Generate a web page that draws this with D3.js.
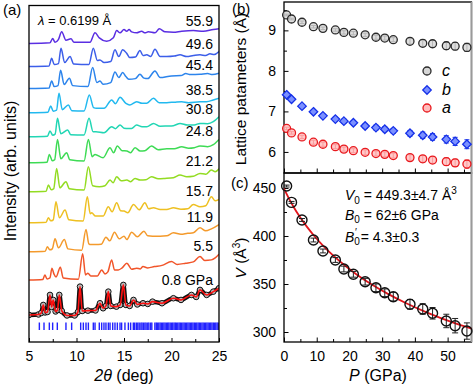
<!DOCTYPE html>
<html><head><meta charset="utf-8">
<script src="https://cdn.jsdelivr.net/npm/d3@7"></script>
<style>body{margin:0;background:#fff}svg{display:block}</style>
</head><body><svg id="c" width="474" height="387"></svg>
<script>
// ---------- DATA ----------
const pressureLabels = ["55.9","49.6","45.4","38.5","30.8","24.8","21.2","15.7","11.9","5.5","0.8 GPa"];
const patternOffsets = [298,275,253,229,205,179,150,119,90,62,27];
const xrd559 = [[5,0],[7.2,0.7],[7.49,5],[7.74,1.3],[8.09,4],[8.44,11.7],[8.89,3.3],[9.42,4.7],[9.74,1.3],[11.42,1.3],[11.95,10.7],[12.4,5.7],[13.18,2.3],[13.88,5.7],[14.23,13],[14.58,10.7],[15.0,14],[15.28,12.3],[15.53,14],[15.81,11.7],[16.33,10.7],[16.86,12.3],[17.21,10.7],[17.56,11.7],[18.26,10.7],[18.72,14.7],[19.32,11.7],[20.19,11.3],[21.07,12.3],[22.3,13],[23.35,12.3],[24.4,14],[25,14.7]];
const xrd496 = [[5,0],[7.1,0.5],[7.39,8.3],[7.65,2],[8.1,3],[8.37,18.3],[8.75,4],[9.32,10],[9.7,2.5],[11.3,2],[11.77,18.3],[12.2,6],[12.47,6.7],[12.9,4],[13.6,5],[14.05,16.7],[14.45,10],[14.86,16.7],[15.28,13.3],[15.6,9],[16.2,9.5],[16.68,16],[17.0,11],[17.4,11.7],[17.8,10],[18.26,17.3],[18.8,10],[19.5,10],[20.3,10.5],[20.9,11.7],[21.6,10],[22.3,11],[23.0,11.7],[23.6,11],[24.05,12.7],[24.5,12],[25,15]];
const xrd454 = [[5,0],[7.1,0.5],[7.39,7.7],[7.65,2],[8.05,3],[8.33,18.3],[8.7,4],[9.25,10.3],[9.6,3],[11.2,2],[11.7,21],[12.15,6],[12.47,7.7],[12.8,4.3],[13.6,6],[14.05,16.7],[14.45,11],[14.86,16],[15.2,12],[15.5,9.3],[16.2,10],[16.68,14.3],[17.1,10.5],[17.5,10],[18.26,17.7],[18.8,11],[20,12.7],[21,13],[21.5,15],[22,14],[23,14.3],[23.8,15],[24.3,14],[25,15.3]];
const xrd385 = [[5,0],[7.0,0.5],[7.28,6.7],[7.55,1.5],[7.9,2.5],[8.16,19.3],[8.5,3],[9.14,7.7],[9.5,2],[10.8,1.7],[11.35,17.7],[11.8,5],[12.1,4.3],[12.9,4.3],[13.7,12.7],[14.1,9],[14.58,15.3],[15.2,9.3],[15.6,7.7],[16.33,11],[16.9,9.3],[17.4,9.5],[18.1,14.3],[18.7,10],[19.5,10],[20.3,10.5],[21.07,11],[21.8,10],[23,11],[23.7,11],[24.4,12.7],[25,14.3]];
const xrd308 = [[5,0],[6.95,0.5],[7.21,5.7],[7.5,1.5],[7.75,2.5],[8.0,18.3],[8.35,3],[9.07,6.7],[9.4,2],[10.8,1.7],[11.32,18.3],[11.75,5],[12.05,5],[12.9,4],[13.7,10],[14.1,8],[14.58,11.7],[15.0,8.5],[15.46,8.3],[15.8,8.3],[16.33,11.7],[16.9,10],[17.4,10],[18.1,13.3],[18.8,10.5],[19.5,10.7],[20.2,11],[20.9,13.3],[21.7,11.7],[22.4,11.7],[23,13.3],[23.8,13],[24.4,15],[25,20]];
const xrd248 = [[5,0],[6.9,0.5],[7.14,8.3],[7.45,2],[7.7,3],[8.0,23.3],[8.35,4],[8.96,10],[9.3,3],[10.8,1.7],[11.25,23.3],[11.65,6],[11.95,8.3],[12.8,5],[13.53,15],[13.9,10],[14.3,16.7],[14.8,12],[15.3,11.7],[15.7,10],[16.16,15],[16.7,11.7],[17.2,12],[17.9,16.7],[18.6,13],[19.5,14],[20.3,14],[21.07,16],[21.8,14.5],[22.4,15],[23,16.7],[23.8,16],[24.4,18],[25,23.3]];
const xrd212 = [[5,0],[6.8,0.5],[7.04,6.7],[7.35,2],[7.6,3],[7.91,23.3],[8.25,4],[8.89,10],[9.25,3],[10.8,1.7],[11.25,25],[11.7,6],[12.4,5],[13.0,6],[13.53,11.7],[13.85,9],[14.23,15],[14.7,11],[15.3,11.7],[15.7,10],[16.16,13.3],[16.7,11.7],[17.3,12],[17.9,15],[18.6,13],[19.3,13.3],[20.2,14],[20.9,16.7],[21.6,15],[22.3,15.5],[23,18.3],[23.6,17.5],[24.2,21.7],[24.6,20],[25,23]];
const xrd157 = [[5,0],[6.8,0.5],[7.04,5],[7.3,2],[7.55,3],[7.84,21],[8.2,5],[8.79,12.7],[9.2,3],[10.7,1.7],[11.14,26],[11.45,9],[11.6,10],[12.0,6.7],[12.8,6.7],[13.35,16],[13.75,11],[14.23,20],[14.65,12],[15.0,11.7],[15.4,10],[16.0,18.3],[16.6,13],[17.2,20],[17.6,14],[18.1,15],[18.8,13.3],[19.5,13.3],[20.2,15],[21,13.5],[21.7,14],[22.3,18.3],[23,16],[23.6,17],[24.2,26],[24.6,22],[25,23.3]];
const xrd119 = [[5,0],[6.7,0.5],[6.93,5],[7.2,2],[7.45,3],[7.74,13],[8.1,4],[8.72,12.3],[9.1,3],[10.55,1.7],[11.0,22.3],[11.3,8],[11.5,7.3],[12.0,7.3],[12.6,7.5],[13.1,14.7],[13.5,11],[14.0,19.7],[14.5,13],[15.0,15.7],[15.3,12.3],[15.81,19.7],[16.4,15],[17.1,20.7],[17.5,16],[18.0,15.7],[18.8,15.7],[19.5,16],[20.2,19],[21,17.5],[21.7,18.5],[22.3,19],[23.0,24],[23.6,21],[24.2,23],[25,27.3]];
const xrd55 = [[5,0],[6.45,0.5],[6.67,5],[6.9,1],[7.2,2],[7.42,11.7],[7.62,6],[7.85,3],[8.3,12.7],[8.6,2],[10.2,0.7],[10.65,26],[10.95,5],[11.2,6.7],[11.5,4],[12.2,4],[12.65,10],[13.0,6],[13.3,8],[13.7,20],[14.0,10],[14.4,10],[14.8,12],[15.3,16.7],[15.8,10.7],[16.33,11.7],[16.7,11],[17.0,13.3],[17.5,12],[18.2,13.3],[19.0,14.5],[20.0,18.3],[20.6,15.5],[21.5,16.7],[22.3,18],[23.0,23.3],[23.5,19.5],[24.2,20],[24.6,22],[25,25.7]];
const xrd08 = [[5,0],[6.0,0.5],[6.3,2],[6.5,10],[6.7,2.5],[6.95,3],[7.21,20],[7.38,8],[7.55,15],[7.8,3.5],[8.0,5],[8.19,20],[8.45,4],[9.0,-0.5],[9.8,-0.5],[10.15,3],[10.37,28.3],[10.6,4],[11.2,4.3],[12.0,4.5],[12.47,11.7],[12.8,6.7],[13.1,9],[13.35,23.3],[13.6,9],[14.2,8.3],[14.6,10],[14.93,30],[15.2,10],[15.6,9],[16.0,15],[16.4,10.5],[17.0,11.7],[17.5,11],[18,13.3],[19,11.7],[20.2,16.7],[21,15],[22.1,20],[22.6,18],[23.0,25],[23.7,20],[24.4,23.3],[25,26.7]];
const braggPositions = [6.09,6.58,7.14,7.49,7.98,8.89,9.49,10.44,10.72,11.0,11.25,11.77,11.95,12.4,12.65,12.89,13.1,13.35,13.53,13.81,14.05,14.3,14.58,14.75,15.1,15.46,15.7,15.98,16.12,16.3,16.45,16.6,16.78,16.9,17.05,17.2,17.33,17.5,17.62,17.8,17.93,18.25,18.4,18.52,18.66,18.8,18.93,19.07,19.2,19.33,19.47,19.6,19.72,19.86,20.0,20.13,20.27,20.4,20.52,20.66,20.8,20.93,21.06,21.2,21.33,21.46,21.6,21.73,21.86,22.0,22.13,22.26,22.4,22.53,22.66,22.8,22.93,23.06,23.2,23.33,23.46,23.6,23.73,23.86,24.0,24.13,24.26,24.4,24.53,24.66,24.8,24.92];
const xTicksA = [5,7.5,10,12.5,15,17.5,20,22.5,25];

const pressures = [0.8,2.3,5.5,9.0,11.9,15.7,18.3,21.2,24.8,28.1,30.8,33.4,38.5,42.4,45.4,49.6,52.3,55.9];
const latticeC = [9.38,9.28,9.20,9.09,9.05,9.01,8.95,8.93,8.89,8.83,8.81,8.77,8.73,8.68,8.67,8.62,8.61,8.58];
const latticeCErr = [0.02,0.02,0.03,0.03,0.03,0.03,0.04,0.04,0.04,0.05,0.05,0.05,0.07,0.08,0.08,0.09,0.09,0.1];
const latticeB = [7.41,7.30,7.13,6.99,6.89,6.81,6.76,6.72,6.64,6.60,6.56,6.52,6.46,6.41,6.37,6.31,6.26,6.19];
const latticeBErr = [0.03,0.03,0.04,0.04,0.04,0.05,0.05,0.05,0.05,0.06,0.06,0.06,0.07,0.08,0.08,0.09,0.1,0.11];
const latticeA = [6.58,6.47,6.37,6.24,6.19,6.13,6.07,6.03,5.99,5.96,5.94,5.91,5.86,5.83,5.80,5.76,5.73,5.70];
const latticeAErr = [0.03,0.03,0.04,0.05,0.05,0.05,0.05,0.05,0.06,0.06,0.06,0.06,0.07,0.08,0.08,0.09,0.09,0.1];
const volume = [452,435,416.7,395.8,384.4,375,365.6,360.1,352.4,346.1,340.9,336.8,328.9,324,319.5,311.5,306.6,301];
const volumeErr = [1,1,1.5,2,2,2.5,3,3,3.5,4,4,4.5,5,5.5,6,7,7.5,8.5];
const fitP = [0,1.36,2.99,4.83,6.91,9.26,11.91,14.91,18.32,22.18,26.59,31.61,37.36,43.94,51.53,57.3];
const fitV = [449.3,440,430,420,410,400,390,380,370,360,350,340,330,320,310,303.5];
const pTicks = [0,5,10,15,20,25,30,35,40,45,50,55];
const bTicks = [6,6.5,7,7.5,8,8.5,9,9.5];
const vTicks = [300,325,350,375,400,425,450];

// ---------- STYLE ----------
const FONT = "Arial, 'Liberation Sans', sans-serif";
const patterns = [xrd559,xrd496,xrd454,xrd385,xrd308,xrd248,xrd212,xrd157,xrd119,xrd55];
const colors = ["#5a2ee2","#3c5ee9","#2c84ec","#22b9ef","#22d6b4","#3edb55","#93dc22","#eec022","#f49a2c","#f1552a"];

const svg = d3.select("#c").attr("font-family", FONT);

// ===== Panel (a) =====
const xA = d3.scaleLinear().domain([5,25]).range([29,219]);
const yA = d3.scaleLinear().domain([0,336]).range([342,5.5]);
svg.append("clipPath").attr("id","clipA").append("rect").attr("x",29).attr("y",5.5).attr("width",190).attr("height",336.5);
const gA = svg.append("g").attr("clip-path","url(#clipA)");
const lineA = off => d3.line().x(d=>xA(d[0])).y(d=>yA(off+d[1])).curve(d3.curveMonotoneX);

patterns.forEach((p,i)=>{
  gA.append("path").attr("d", lineA(patternOffsets[i])(p)).attr("fill","none")
    .attr("stroke",colors[i]).attr("stroke-width",1.5).attr("stroke-linejoin","round");
});
const off08 = patternOffsets[10];
gA.append("path").attr("d", lineA(off08)(xrd08)).attr("fill","none").attr("stroke","#111").attr("stroke-width",4.5).attr("stroke-linejoin","round");
gA.selectAll("circle.obs").data(xrd08).join("circle").attr("class","obs")
  .attr("cx",d=>xA(d[0])).attr("cy",d=>yA(off08+d[1])).attr("r",2.8)
  .attr("fill","#b8b8b8").attr("stroke","#111").attr("stroke-width",1);
gA.append("path").attr("d", lineA(off08)(xrd08)).attr("fill","none").attr("stroke","#ff1010").attr("stroke-width",1.6);

gA.selectAll("line.bragg").data(braggPositions).join("line").attr("class","bragg")
  .attr("x1",d=>xA(d)).attr("x2",d=>xA(d)).attr("y1",yA(12)).attr("y2",yA(19.5))
  .attr("stroke","#2222ff").attr("stroke-width",1.4);

const allPatterns = patterns.concat([xrd08]);
allPatterns.forEach((p,i)=>{
  const last = p[p.length-1];
  svg.append("text").attr("x",213).attr("y", yA(patternOffsets[i]+last[1]) - 3)
    .attr("text-anchor","end").attr("font-size",14).text(pressureLabels[i]);
});
const lam = svg.append("text").attr("x",38).attr("y",25).attr("font-size",13);
lam.append("tspan").attr("font-style","italic").text("λ");
lam.append("tspan").text(" = 0.6199 Å");

const axA = d3.axisBottom(xA).tickValues(xTicksA).tickSize(-4).tickPadding(9)
  .tickFormat(d => d % 5 === 0 ? d : "");
const gAx = svg.append("g").attr("transform","translate(0,342)").call(axA);
gAx.select(".domain").remove();
gAx.selectAll(".tick line").attr("y2", d => d % 5 === 0 ? -4 : -3).attr("stroke","#000");
gAx.selectAll("text").attr("font-size",14).attr("font-family",FONT).attr("fill","#000");
svg.append("rect").attr("x",29).attr("y",5.5).attr("width",190).attr("height",336.5)
  .attr("fill","none").attr("stroke","#000").attr("stroke-width",1.3);

const xt = svg.append("text").attr("x",124).attr("y",381).attr("text-anchor","middle").attr("font-size",16);
xt.append("tspan").attr("font-style","italic").text("2θ");
xt.append("tspan").text(" (deg)");
svg.append("text").attr("transform","translate(16,171) rotate(-90)").attr("text-anchor","middle")
  .attr("font-size",16).text("Intensity (arb. units)");
svg.append("text").attr("x",3).attr("y",15).attr("font-size",15).text("(a)");

// ===== Panels (b),(c) =====
const L = 284, R = 471.5;
const xP = d3.scaleLinear().domain([0,57.3]).range([L,R]);
const yB = d3.scaleLinear().domain([5.48,9.70]).range([173,2]);
const yC = d3.scaleLinear().domain([289.6,465.6]).range([342,173]);

const gBy = svg.append("g").attr("transform",`translate(${L},0)`)
  .call(d3.axisLeft(yB).tickValues(bTicks).tickSize(-4).tickPadding(8).tickFormat(d => Number.isInteger(d) ? d : ""));
gBy.select(".domain").remove();
gBy.selectAll(".tick line").attr("x2", d => Number.isInteger(d) ? 4.5 : 3);
gBy.selectAll("text").attr("font-size",14).attr("font-family",FONT);
const gBx = svg.append("g").attr("transform","translate(0,173)")
  .call(d3.axisBottom(xP).tickValues(pTicks).tickSize(-4).tickFormat(""));
gBx.select(".domain").remove();
gBx.selectAll(".tick line").attr("y2", d => d % 10 === 0 ? -4.5 : -3.5);

const gCy = svg.append("g").attr("transform",`translate(${L},0)`)
  .call(d3.axisLeft(yC).tickValues(vTicks).tickSize(-4).tickPadding(8).tickFormat(d => d % 50 === 0 ? d : ""));
gCy.select(".domain").remove();
gCy.selectAll(".tick line").attr("x2", d => d % 50 === 0 ? 4.5 : 3);
gCy.selectAll("text").attr("font-size",14).attr("font-family",FONT);
const gCx = svg.append("g").attr("transform","translate(0,342)")
  .call(d3.axisBottom(xP).tickValues(pTicks).tickSize(-4).tickPadding(9).tickFormat(d => d % 10 === 0 ? d : ""));
gCx.select(".domain").remove();
gCx.selectAll(".tick line").attr("y2", d => d % 10 === 0 ? -4.5 : -3);
gCx.selectAll("text").attr("font-size",14).attr("font-family",FONT);

svg.append("rect").attr("x",L).attr("y",2).attr("width",R-L).attr("height",171).attr("fill","none").attr("stroke","#000").attr("stroke-width",1.3);
svg.append("rect").attr("x",L).attr("y",173).attr("width",R-L).attr("height",169).attr("fill","none").attr("stroke","#000").attr("stroke-width",1.3);
svg.append("line").attr("x1",R).attr("x2",R).attr("y1",2).attr("y2",342).attr("stroke","#9a9a9a").attr("stroke-width",1.6);

const seriesB = [
  {v:latticeC, e:latticeCErr, stroke:"#2a2a2a", fill:"#d6d6d6", shape:"circle", bar:"#333"},
  {v:latticeB, e:latticeBErr, stroke:"#1530e8", fill:"#7b90ff", shape:"diamond", bar:"#1530e8"},
  {v:latticeA, e:latticeAErr, stroke:"#e8191e", fill:"#ffbcbc", shape:"circle", bar:"#e8191e"}
];
const diamond = d3.symbol().type(d3.symbolDiamond2).size(46);
seriesB.forEach(s=>{
  const g = svg.append("g");
  pressures.forEach((p,i)=>{
    const x = xP(p), y0 = yB(s.v[i]-s.e[i]), y1 = yB(s.v[i]+s.e[i]);
    g.append("line").attr("x1",x).attr("x2",x).attr("y1",y0).attr("y2",y1).attr("stroke",s.bar).attr("stroke-width",1);
    g.append("line").attr("x1",x-2.5).attr("x2",x+2.5).attr("y1",y0).attr("y2",y0).attr("stroke",s.bar).attr("stroke-width",1);
    g.append("line").attr("x1",x-2.5).attr("x2",x+2.5).attr("y1",y1).attr("y2",y1).attr("stroke",s.bar).attr("stroke-width",1);
  });
  if (s.shape === "circle") {
    g.selectAll("circle").data(pressures).join("circle")
      .attr("cx",d=>xP(d)).attr("cy",(d,i)=>yB(s.v[i])).attr("r",4)
      .attr("fill",s.fill).attr("fill-opacity",0.8).attr("stroke",s.stroke).attr("stroke-width",1.3);
  } else {
    g.selectAll("path.m").data(pressures).join("path").attr("class","m")
      .attr("transform",(d,i)=>`translate(${xP(d)},${yB(s.v[i])})`).attr("d",diamond)
      .attr("fill",s.fill).attr("stroke",s.stroke).attr("stroke-width",1.3);
  }
});
const leg = [["c",0,71],["b",1,90],["a",2,108]];
leg.forEach(([t,k,y])=>{
  const s = seriesB[k];
  if (s.shape === "circle") svg.append("circle").attr("cx",427).attr("cy",y).attr("r",4).attr("fill",s.fill).attr("stroke",s.stroke).attr("stroke-width",1.3);
  else svg.append("path").attr("transform",`translate(427,${y})`).attr("d",diamond).attr("fill",s.fill).attr("stroke",s.stroke).attr("stroke-width",1.3);
  svg.append("text").attr("x",442).attr("y",y+5).attr("font-size",16).attr("font-style","italic").text(t);
});

const fitLine = d3.line().x((d,i)=>xP(fitP[i])).y(d=>yC(d)).curve(d3.curveMonotoneX);
svg.append("path").attr("d",fitLine(fitV)).attr("fill","none").attr("stroke","#e3141b").attr("stroke-width",1.8);
const gC = svg.append("g");
pressures.forEach((p,i)=>{
  const x = xP(p), y0 = yC(volume[i]-volumeErr[i]), y1 = yC(volume[i]+volumeErr[i]);
  gC.append("line").attr("x1",x).attr("x2",x).attr("y1",y0).attr("y2",y1).attr("stroke","#222").attr("stroke-width",1);
  gC.append("line").attr("x1",x-3).attr("x2",x+3).attr("y1",y0).attr("y2",y0).attr("stroke","#222").attr("stroke-width",1);
  gC.append("line").attr("x1",x-3).attr("x2",x+3).attr("y1",y1).attr("y2",y1).attr("stroke","#222").attr("stroke-width",1);
});
gC.selectAll("circle").data(pressures).join("circle")
  .attr("cx",d=>xP(d)).attr("cy",(d,i)=>yC(volume[i])).attr("r",5)
  .attr("fill","none").attr("stroke","#111").attr("stroke-width",1.4);

const t1 = svg.append("text").attr("x",345).attr("y",200).attr("font-size",14);
t1.append("tspan").attr("font-style","italic").text("V");
t1.append("tspan").attr("dy",4).attr("font-size",10).text("0");
t1.append("tspan").attr("dy",-4).text(" = 449.3±4.7 Å");
t1.append("tspan").attr("dy",-6).attr("font-size",10).text("3");
const t2 = svg.append("text").attr("x",345).attr("y",220).attr("font-size",14);
t2.append("tspan").attr("font-style","italic").text("B");
t2.append("tspan").attr("dy",3).attr("font-size",10).text("0");
t2.append("tspan").attr("dy",-3).text(" = 62±6 GPa");
const t3 = svg.append("text").attr("x",345).attr("y",242).attr("font-size",14);
t3.append("tspan").attr("font-style","italic").text("B");
t3.append("tspan").attr("dy",3).attr("font-size",10).text("0");
t3.append("tspan").attr("dx",-5).attr("dy",-9).attr("font-size",10).text("′");
t3.append("tspan").attr("dy",6).text(" = 4.3±0.3");

svg.append("text").attr("transform","translate(246,89) rotate(-90)").attr("text-anchor","middle")
  .attr("font-size",15.5).text("Lattice patameters (Å)");
const vt = svg.append("text").attr("transform","translate(246,258) rotate(-90)").attr("text-anchor","middle").attr("font-size",15.5);
vt.append("tspan").attr("font-style","italic").text("V");
vt.append("tspan").text(" (Å");
vt.append("tspan").attr("dy",-6).attr("font-size",10).text("3");
vt.append("tspan").attr("dy",6).text(")");
const pt = svg.append("text").attr("x",378).attr("y",381).attr("text-anchor","middle").attr("font-size",16);
pt.append("tspan").attr("font-style","italic").text("P");
pt.append("tspan").text(" (GPa)");
svg.append("text").attr("x",232).attr("y",14).attr("font-size",15).text("(b)");
svg.append("text").attr("x",231).attr("y",188).attr("font-size",15).text("(c)");
</script></body></html>
